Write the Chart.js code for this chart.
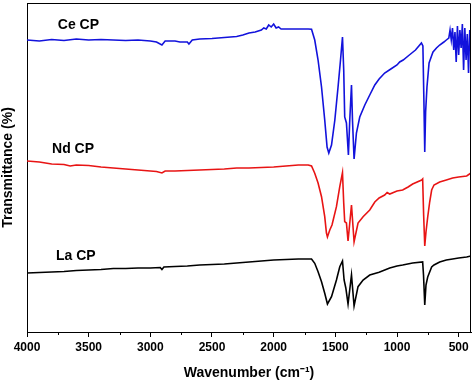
<!DOCTYPE html>
<html><head><meta charset="utf-8">
<script src="https://cdn.jsdelivr.net/npm/chart.js@4.4.0/dist/chart.umd.min.js"></script>
<style>html,body{margin:0;padding:0;background:#fff;}</style>
</head><body>
<canvas id="c" width="474" height="384"></canvas>
<script>
// ---- data ----
const ceWavenumber = [4000,3900,3800,3700,3600,3500,3400,3300,3200,3100,3000,2950,2906,2880,2800,2760,2700,2687,2660,2600,2500,2400,2300,2250,2200,2150,2100,2080,2060,2040,2020,2000,1980,1960,1940,1900,1850,1800,1750,1720,1693,1667,1640,1612,1586,1567,1553,1531,1504,1478,1458,1442,1432,1424,1410,1394,1383,1369,1361,1348,1329,1302,1261,1221,1180,1145,1100,1050,1000,978,950,900,850,802,790,782,775,768,757,740,720,708,680,654,620,600,580,570,560,550,540,530,520,510,500,490,480,470,460,450,440,430,420,410,400];
const ceTransmittance = [292,291,292.5,291.5,293,292,292.5,292,291.5,292,291,290,287,291,291,290,290,288,292,293,293.5,294.5,295.5,297,299,300,302,304,303,307,305,308,304,305,303,303,303,303,303,303,302.7,292,272,245,212,185,179,187,212,245,272,295,262,215,209,177,212,247,212,173,199,215,227,237,247,253,259,263,267,270,272,277,282,289,286,232,180,220,245,269,276,280,284,287,290,292,294,302,292,304,282,300,270,306,277,302,284,308,262,304,272,298,259,302,282];

const ndWavenumber = [4000,3900,3800,3700,3650,3600,3500,3400,3300,3200,3100,3000,2950,2906,2880,2800,2700,2600,2500,2400,2300,2200,2100,2000,1900,1800,1720,1693,1667,1640,1612,1586,1572,1564,1545,1527,1491,1464,1442,1432,1424,1410,1397,1369,1348,1316,1275,1221,1180,1145,1100,1080,1059,1000,954,910,873,800,792,784,775,765,751,735,719,700,654,600,549,500,435,400];
const ndTransmittance = [171,170,168,167.5,166,167,166.5,165,164,163,162,161,160.5,159,161,161,161.5,162,162.5,163,164,164,164.5,165,166,167,167,166,158.7,149,135.3,115.3,99,95,102,107,125.3,145.3,159.3,129,110.3,109,91,127,90.3,109,115.3,122,130,134,137,139.5,138,141,142,145,148,152,153,117,86,100,115,130,142,147,150,152,154,155,156,159];

const laWavenumber = [4000,3900,3800,3700,3600,3500,3400,3300,3200,3100,3000,2920,2906,2890,2800,2700,2600,2500,2400,2300,2200,2100,2000,1900,1800,1720,1693,1667,1640,1612,1586,1564,1531,1491,1464,1442,1429,1415,1397,1369,1348,1316,1275,1221,1145,1059,1000,954,873,792,785,775,765,751,719,700,654,600,549,500,435,400];
const laTransmittance = [59,59.5,60,60.5,61.5,62,62.5,63.5,63.5,64,64,64.5,62.5,65,65.5,66,67,67.5,68,69,70,71,72,72.5,73,73,73,68.7,60.3,50.3,38.7,28,35.3,52,65.3,71,52,44,28,57,26,45.3,52,57,59.7,64,66,67,69,70,57,27,47,55,65,67,70,72,73,74,75,76];

const seriesNames = ['Ce CP', 'Nd CP', 'La CP'];
const seriesColors = ['#1212dc', '#e81414', '#000000'];
const xTickValues = [4000,3500,3000,2500,2000,1500,1000,500];
const xMinorTickValues = [3750,3250,2750,2250,1750,1250,750];
// label anchors (wavenumber, transmittance) for the series names
const labelWavenumber = [3750, 3797, 3765];
const labelTransmittance = [307, 183, 76];

function pairs(xs, ys) { return xs.map((x, i) => ({x: x, y: ys[i]})); }

const FONT = 'Arial, "Liberation Sans", Helvetica, sans-serif';

const framePlugin = {
  id: 'frame',
  afterDraw(chart) {
    const ctx = chart.ctx, a = chart.chartArea;
    const xs = chart.scales.x, ys = chart.scales.y;
    ctx.save();
    ctx.strokeStyle = '#000';
    ctx.lineWidth = 1;
    ctx.beginPath();
    ctx.moveTo(a.left, a.top + 0.5);
    ctx.lineTo(a.right - 0.5, a.top + 0.5);
    ctx.lineTo(a.right - 0.5, a.bottom);
    ctx.stroke();
    // minor ticks
    ctx.beginPath();
    xMinorTickValues.forEach(v => {
      const px = Math.round(xs.getPixelForValue(v)) + 0.5;
      ctx.moveTo(px, a.bottom);
      ctx.lineTo(px, a.bottom + 3);
    });
    ctx.stroke();
    // series names
    ctx.fillStyle = '#000';
    ctx.font = 'bold 14px ' + FONT;
    ctx.textAlign = 'left';
    ctx.textBaseline = 'middle';
    seriesNames.forEach((n, i) => {
      ctx.fillText(n, xs.getPixelForValue(labelWavenumber[i]), ys.getPixelForValue(labelTransmittance[i]));
    });
    ctx.restore();
  }
};

new Chart(document.getElementById('c'), {
  type: 'line',
  data: {
    datasets: [
      {label: seriesNames[0], data: pairs(ceWavenumber, ceTransmittance), borderColor: seriesColors[0]},
      {label: seriesNames[1], data: pairs(ndWavenumber, ndTransmittance), borderColor: seriesColors[1]},
      {label: seriesNames[2], data: pairs(laWavenumber, laTransmittance), borderColor: seriesColors[2]}
    ]
  },
  options: {
    responsive: false,
    animation: false,
    devicePixelRatio: 1,
    layout: {padding: {top: 3, right: 3, left: 0, bottom: 0}},
    elements: {line: {borderWidth: 1.6, tension: 0}, point: {radius: 0}},
    plugins: {legend: {display: false}, tooltip: {enabled: false}},
    scales: {
      x: {
        type: 'linear', reverse: true, min: 400, max: 4000,
        afterBuildTicks: s => { s.ticks = xTickValues.map(v => ({value: v})); },
        afterFit: s => { s.height = 52; },
        ticks: {font: {family: FONT, size: 12, weight: 'bold'}, color: '#000', maxRotation: 0, autoSkip: false, padding: 3,
                callback: v => String(v)},
        grid: {display: true, drawOnChartArea: false, tickLength: 5, color: '#000', tickColor: '#000'},
        border: {display: true, color: '#000', width: 1},
        title: {display: true, text: 'Wavenumber (cm\u207B\u00B9)', font: {family: FONT, size: 14, weight: 'bold'}, color: '#000', padding: {top: 0, bottom: 2}}
      },
      y: {
        min: 0, max: 329,
        afterFit: s => { s.width = 27; },
        ticks: {display: false},
        grid: {display: false},
        border: {display: true, color: '#000', width: 1},
        title: {display: true, text: 'Transmittance (%)', font: {family: FONT, size: 14, weight: 'bold'}, color: '#000', padding: {top: 0, bottom: 0}}
      }
    }
  },
  plugins: [framePlugin]
});
</script>
</body></html>
